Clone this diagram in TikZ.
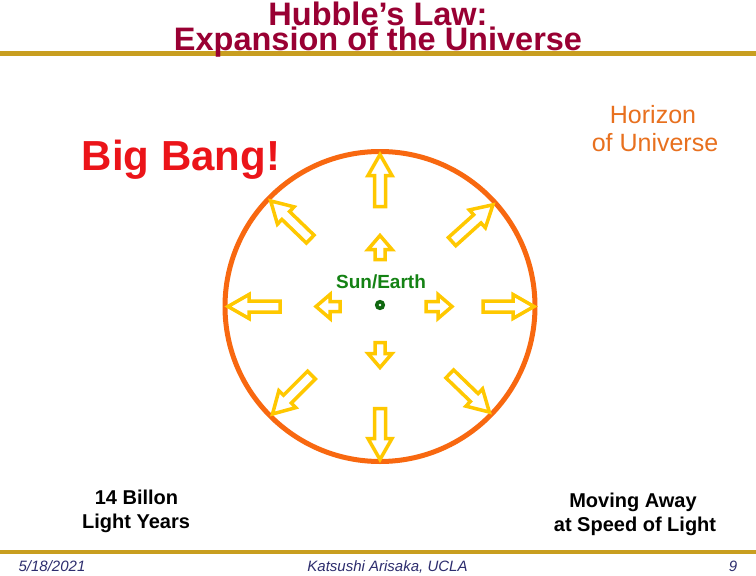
\documentclass[tikz,border=0pt]{standalone}
\usepackage{fontspec}
\setmainfont{Liberation Sans}
\usepackage{graphicx}
\definecolor{titlered}{RGB}{153,0,51}
\definecolor{goldline}{RGB}{200,158,32}
\definecolor{horizonorange}{RGB}{248,104,16}
\definecolor{arrowgold}{RGB}{255,200,0}
\definecolor{bangred}{RGB}{235,20,25}
\definecolor{horizontext}{RGB}{232,112,30}
\definecolor{sungreen}{RGB}{20,130,20}
\definecolor{footblue}{RGB}{45,45,110}
\tikzset{
  arrowline/.style={draw=arrowgold, fill=white, line width=3.5pt, line join=miter},
  titletext/.style={font=\fontsize{32.5}{25.5}\selectfont\bfseries, text=titlered, inner sep=0pt, align=center},
  labeltext/.style={font=\fontsize{20}{20}\selectfont\bfseries, text=black, anchor=base, inner sep=0pt},
  foottext/.style={font=\fontsize{15}{15}\selectfont\itshape, text=footblue, anchor=base, inner sep=0pt},
  rule/.style={draw=goldline},
}
\newcommand{\hollowarrow}[6]{%
  \begin{scope}[shift={(ctr)}, rotate=#1]
    \draw[arrowline] (#2,-#4) -- ({#3-#6},-#4) -- ({#3-#6},-#5) -- (#3,0)
      -- ({#3-#6},#5) -- ({#3-#6},#4) -- (#2,#4) -- cycle;
  \end{scope}}
\begin{document}
\begin{tikzpicture}[x=1pt,y=1pt]
\useasboundingbox (0,0) rectangle (756,-576);
\fill[white] (0,0) rectangle (756,-576);
% rules
\coordinate (rt1) at (0,-53.3);
\coordinate (rt2) at (756,-53.3);
\draw[rule, line width=5pt] (rt1) -- (rt2);
\coordinate (rb1) at (0,-552);
\coordinate (rb2) at (756,-552);
\draw[rule, line width=4pt] (rb1) -- (rb2);
% title
\node[titletext, text depth=0pt, anchor=south] (title) at (378,-51) {Hubble’s Law:\\Expansion of the Universe};
% circle
\coordinate (ctr) at (380,-306.5);
\draw[draw=horizonorange, line width=5pt] (ctr) circle[radius=155];
% outer arrows
\hollowarrow{90}{100}{152}{5.5}{12}{21}
\hollowarrow{180}{100}{152}{5.5}{12}{21}
\hollowarrow{0}{103}{154}{5.5}{12}{21}
\hollowarrow{270}{102}{153}{5.5}{12}{21}
\hollowarrow{136}{97}{152}{5.5}{12}{21}
\hollowarrow{42}{97}{152}{5.5}{12}{21}
\hollowarrow{225}{97}{152}{5.5}{12}{21}
\hollowarrow{316}{97}{152}{5.5}{12}{21}
% inner arrows
\hollowarrow{90}{47}{71}{5}{12}{14}
\hollowarrow{180}{40}{64}{5}{12}{14}
\hollowarrow{0}{46}{72}{5}{12}{14}
\hollowarrow{270}{36}{61}{5}{12}{14}
% sun/earth
\fill[sungreen!80!black] (380,-305) circle[radius=5.2];
\fill[white] (380,-305) circle[radius=1.3];
\node[font=\fontsize{19}{19}\selectfont\bfseries, text=sungreen, anchor=base, inner sep=0pt] (sun) at (381,-288) {Sun/Earth};
% labels
\node[font=\fontsize{42}{42}\selectfont\bfseries, text=bangred, anchor=base, inner sep=0pt] (bang) at (181,-170) {Big Bang!};
\node[font=\fontsize{25}{25}\selectfont, text=horizontext, anchor=base, inner sep=0pt] (hz1) at (653,-123) {Horizon};
\node[font=\fontsize{25}{25}\selectfont, text=horizontext, anchor=base, inner sep=0pt] (hz2) at (655,-151) {of Universe};
\node[labeltext] (ly1) at (136.5,-504) {14 Billon};
\node[labeltext] (ly2) at (136,-528) {Light Years};
\node[labeltext] (mv1) at (633,-507) {Moving Away};
\node[labeltext] (mv2) at (635,-531) {at Speed of Light};
% footer
\node[foottext] (date) at (52,-571) {5/18/2021};
\node[foottext] (auth) at (387.5,-571) {Katsushi Arisaka, UCLA};
\node[foottext] (page) at (733,-571) {9};
\end{tikzpicture}
\end{document}
